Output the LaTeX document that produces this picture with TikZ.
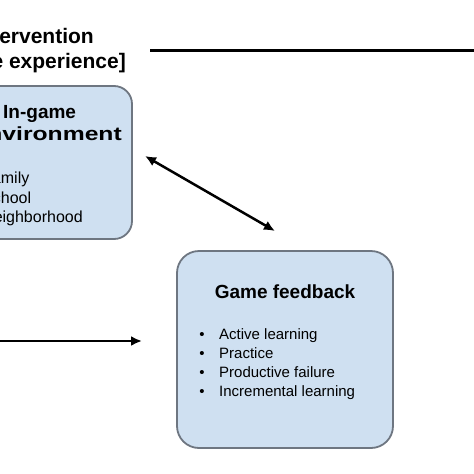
\documentclass[tikz,border=0pt]{standalone}
\usepackage{fontspec}
\setmainfont{Liberation Sans}
\usetikzlibrary{arrows.meta}
\definecolor{boxfill}{HTML}{CFE0F1}
\definecolor{boxline}{HTML}{6E7681}
\tikzset{
  panel/.style={draw=boxline, line width=1.8pt, fill=boxfill, inner sep=0pt},
  toptext/.style={font=\fontsize{21}{25}\selectfont\bfseries, inner sep=0pt},
  titletext/.style={font=\fontsize{19}{23}\selectfont\bfseries, inner sep=0pt},
  itemtext/.style={font=\fontsize{15}{19}\selectfont, inner sep=0pt},
  envitem/.style={font=\fontsize{16}{20}\selectfont, inner sep=0pt},
  conn/.style={line width=2.5pt, -{Latex[length=11pt,width=10pt]}},
  biconn/.style={line width=2.5pt, {Latex[length=11pt,width=10pt]}-{Latex[length=11pt,width=10pt]}},
  rule/.style={line width=3pt}
}
\begin{document}
\begin{tikzpicture}[x=1pt,y=-1pt]
\useasboundingbox (0,0) rectangle (474,474);
\clip (0,0) rectangle (474,474);
\fill[white] (0,0) rectangle (474,474);

% heading
\node[toptext, anchor=base east] (h1) at (94,43) {Intervention};
\node[toptext, anchor=base east] (h2) at (126,68) {[In-game experience]};
\coordinate (r1) at (150,50);
\coordinate (r2) at (480,50);
\draw[rule] (r1) -- (r2);

% box 1
\node[panel, rounded corners=18pt, minimum width=222pt, minimum height=153pt] (env) at (21,162.5) {};
\node[titletext, anchor=base west] (envt1) at (3,118) {In-game};
\node[titletext, anchor=base east] (envt2) at (122,140) {\scalebox{1.3}[1]{Environment}};
\node[envitem, anchor=base west] (e1) at (-18,183) {Family};
\node[envitem, anchor=base west] (e2) at (-18,203) {School};
\node[envitem, anchor=base west] (e3) at (-18,222) {Neighborhood};

% box 2
\node[panel, rounded corners=22pt, minimum width=216pt, minimum height=197pt] (fb) at (285,349.5) {};
\node[titletext, anchor=base] (fbt) at (285,298) {Game feedback};
\foreach \t [count=\i] in {Active learning, Practice, Productive failure, Incremental learning}{
  \node[itemtext, anchor=base] (b\i) at (202,320+19*\i) {•};
  \node[itemtext, anchor=base west] (f\i) at (219,320+19*\i) {\t};
}

% connectors
\coordinate (d1) at (145,156);
\coordinate (d2) at (275,231);
\draw[biconn] (d1) -- (d2);
\coordinate (a1) at (-10,341);
\coordinate (a2) at (142,341);
\draw[conn] (a1) -- (a2);
\end{tikzpicture}
\end{document}
